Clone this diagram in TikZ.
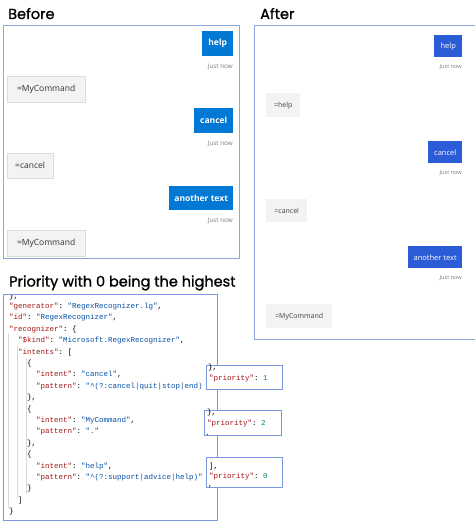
\documentclass[tikz,border=0pt]{standalone}
\usepackage{fontspec}
\setmainfont{Open Sans}
\setmonofont{Liberation Mono}
\newfontfamily\titlefont{Poppins}[FakeBold=1.2]
\definecolor{bblue}{HTML}{0078D4}
\definecolor{ablue}{HTML}{2B5BD6}
\definecolor{framecol}{HTML}{8EA6E0}
\definecolor{codeframe}{HTML}{7B98DC}
\definecolor{botfill}{HTML}{F3F3F3}
\definecolor{jncol}{HTML}{7A7A7A}
\definecolor{keycol}{HTML}{A31515}
\definecolor{valcol}{HTML}{0451A5}
\definecolor{numcol}{HTML}{098658}
\definecolor{guide}{HTML}{D8D8D8}
\newcommand\ckey[1]{\textcolor{keycol}{#1}}
\newcommand\cval[1]{\textcolor{valcol}{#1}}
\newcommand\cnum[1]{\textcolor{numcol}{#1}}
\begin{document}
\begin{tikzpicture}[x=1pt,y=-1pt,
  title/.style={anchor=base west, inner sep=0, font=\titlefont\fontsize{14.5}{16}\selectfont},
  bbtn/.style={fill=bblue, text=white, inner sep=0, anchor=north west, font=\bfseries\fontsize{8.5}{10}\selectfont},
  abtn/.style={fill=ablue, text=white, inner sep=0, anchor=north west, font=\fontsize{7.5}{9}\selectfont},
  bbot/.style={fill=botfill, draw=botfill!80!gray, line width=0.3pt, text=black!80, inner sep=0, anchor=north west, font=\fontsize{8.5}{10}\selectfont},
  abot/.style={fill=botfill, text=black!75, inner sep=0, anchor=north west, font=\fontsize{7}{9}\selectfont},
  jn/.style={anchor=base east, inner sep=0, text=jncol, font=\fontsize{6.3}{7}\selectfont},
  ajn/.style={anchor=base east, inner sep=0, text=jncol, font=\fontsize{5.6}{7}\selectfont},
  frame/.style={draw=framecol, line width=0.9pt},
  cframe/.style={draw=codeframe, line width=0.9pt},
  code/.style={anchor=base west, inner sep=0, font=\ttfamily\fontsize{7.5}{9}\selectfont},
  pbox/.style={draw=codeframe, line width=0.9pt, fill=white}
]
\useasboundingbox (0,0) rectangle (474,522);

% titles
\node[title] (tbefore) at (8,19) {Before};
\node[title] (tafter) at (260,19) {After};
\node[title] (tprio) at (9,286.5) {Priority with 0 being the highest};

% frames
\draw[frame] (3,25) rectangle (239,258);
\draw[frame] (254,25) rectangle (476,339);

% Before chat
\node[bbtn, minimum width=31, minimum height=25] (bhelp) at (202,31) {help};
\node[jn] (bj1) at (233,68) {Just now};
\node[bbot, minimum width=78, minimum height=26] (bmc1) at (7,76) {=MyCommand};
\node[bbtn, minimum width=39, minimum height=25] (bcancel) at (194,108) {cancel};
\node[jn] (bj2) at (233,145) {Just now};
\node[bbot, minimum width=46, minimum height=25] (bcan) at (7,153) {=cancel};
\node[bbtn, minimum width=64, minimum height=24] (banother) at (169,186) {another text};
\node[jn] (bj3) at (233,222) {Just now};
\node[bbot, minimum width=78, minimum height=26] (bmc2) at (7,230) {=MyCommand};

% After chat
\node[abtn, minimum width=28, minimum height=22] (ahelp) at (434,35) {help};
\node[ajn] (aj1) at (462,68) {Just now};
\node[abot, minimum width=34, minimum height=24] (ahelpb) at (266,93) {=help};
\node[abtn, minimum width=34, minimum height=22] (acancel) at (428,141) {cancel};
\node[ajn] (aj2) at (462,174) {Just now};
\node[abot, minimum width=41, minimum height=23] (acan) at (266,199) {=cancel};
\node[abtn, minimum width=54, minimum height=22] (aanother) at (408,246) {another text};
\node[ajn] (aj3) at (462,279) {Just now};
\node[abot, minimum width=66, minimum height=24] (amc) at (266,304) {=MyCommand};

% code
\draw[guide, line width=0.5pt] (8,334) -- (8,508);
\draw[guide, line width=0.5pt] (17,346) -- (17,498);
\draw[guide, line width=0.5pt] (26,358) -- (26,494);
\begin{scope}
\clip (3,294.5) rectangle (217,522);
\node[code] (c0) at (9,298.3) {\},};
\end{scope}
\node[code] (c1) at (9,308.5) {\ckey{"generator"}: \cval{"RegexRecognizer.lg"},};
\node[code] (c2) at (9,319.9) {\ckey{"id"}: \cval{"RegexRecognizer"},};
\node[code] (c3) at (9,331.3) {\ckey{"recognizer"}: \{};
\node[code] (c4) at (18,342.7) {\ckey{"\$kind"}: \cval{"Microsoft.RegexRecognizer"},};
\node[code] (c5) at (18,354.1) {\ckey{"intents"}: [};
\node[code] (c6) at (27,365.5) {\{};
\node[code] (c7) at (36,376.8) {\ckey{"intent"}: \cval{"cancel"},};
\node[code] (c8) at (36,388.2) {\ckey{"pattern"}: \cval{"\textasciicircum(?:cancel|quit|stop|end)}};
\node[code] (c9) at (27,399.6) {\},};
\node[code] (c10) at (27,411.0) {\{};
\node[code] (c11) at (36,422.4) {\ckey{"intent"}: \cval{"MyCommand"},};
\node[code] (c12) at (36,433.8) {\ckey{"pattern"}: \cval{"."}};
\node[code] (c13) at (27,445.2) {\},};
\node[code] (c14) at (27,456.6) {\{};
\node[code] (c15) at (36,468.0) {\ckey{"intent"}: \cval{"help"},};
\node[code] (c16) at (36,479.4) {\ckey{"pattern"}: \cval{"\textasciicircum(?:support|advice|help)"}};
\node[code] (c17) at (27,490.7) {\}};
\node[code] (c18) at (18,502.1) {]};
\node[code] (c19) at (9,513.5) {\}};
\draw[cframe] (3,294) rectangle (217,520);

% priority boxes
\draw[pbox] (206,365) rectangle (282,389);
\node[code] (p1a) at (208,369) {\},};
\node[code] (p1b) at (209,380) {\ckey{"priority"}: \cnum{1}};
\draw[pbox] (204,410) rectangle (281,435);
\node[code] (p2a) at (207,414) {\},};
\node[code] (p2b) at (207,425) {\ckey{"priority"}: \cnum{2}};
\node[code] (p2c) at (205,435) {.};
\draw[pbox] (206,457) rectangle (282,487);
\node[code] (p3a) at (209,468) {],};
\node[code] (p3b) at (209,478) {\ckey{"priority"}: \cnum{0}};
\node[code] (p3c) at (208,486) {,};
\end{tikzpicture}
\end{document}
